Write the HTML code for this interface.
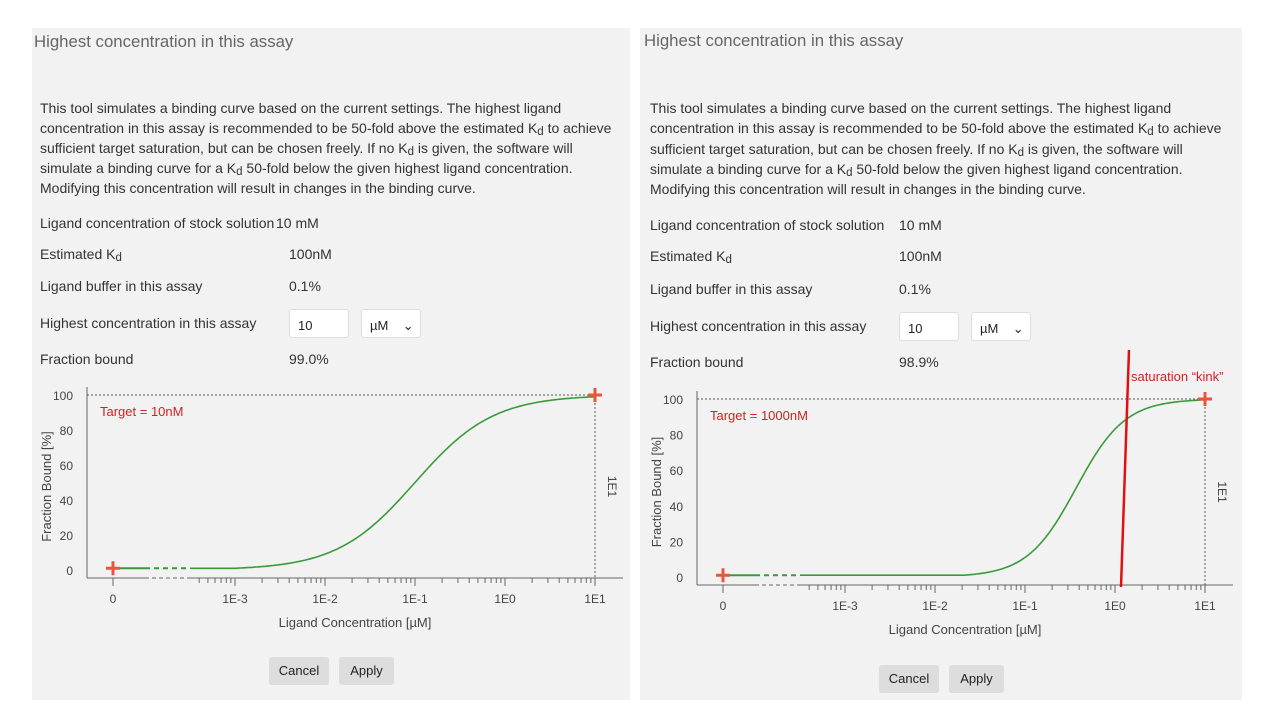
<!DOCTYPE html>
<html><head><meta charset="utf-8"><style>
body{margin:0;width:1280px;height:720px;background:#fff;position:relative;overflow:hidden;font-family:"Liberation Sans",sans-serif;}
.p{position:absolute;background:#f2f2f2;}
.t{position:absolute;white-space:nowrap;color:#333;font-size:14px;}
.h{font-size:16.8px;color:#666;}
sub{font-size:11.5px;vertical-align:-2px;line-height:0;}
.box{position:absolute;background:#fff;border:1px solid #ddd;border-radius:3px;font-size:13px;color:#222;box-sizing:border-box;padding:8px 0 0 8px;}
.btn{position:absolute;background:#ddd;border-radius:3px;font-size:13px;color:#222;text-align:center;line-height:28px;}
svg{position:absolute;left:0;top:0;}
</style></head><body>
<div class="p" style="left:32px;top:28px;width:598px;height:672px"></div>
<div class="p" style="left:640px;top:28px;width:602px;height:672px"></div>

<div class="t h" style="left:34px;top:32px">Highest concentration in this assay</div>
<div class="t" style="left:40px;top:98px;line-height:20px">This tool simulates a binding curve based on the current settings. The highest ligand<br>concentration in this assay is recommended to be 50-fold above the estimated K<sub>d</sub> to achieve<br>sufficient target saturation, but can be chosen freely. If no K<sub>d</sub> is given, the software will<br>simulate a binding curve for a K<sub>d</sub> 50-fold below the given highest ligand concentration.<br>Modifying this concentration will result in changes in the binding curve.</div>
<div class="t" style="left:40px;top:215px">Ligand concentration of stock solution</div><div class="t" style="left:276px;top:215px">10 mM</div>
<div class="t" style="left:40px;top:246px">Estimated K<sub>d</sub></div><div class="t" style="left:289px;top:246px">100nM</div>
<div class="t" style="left:40px;top:278px">Ligand buffer in this assay</div><div class="t" style="left:289px;top:278px">0.1%</div>
<div class="t" style="left:40px;top:315px">Highest concentration in this assay</div>
<div class="box" style="left:289px;top:309px;width:60px;height:29px">10</div>
<div class="box" style="left:361px;top:309px;width:60px;height:29px">µM &nbsp;&nbsp;&nbsp;⌄</div>
<div class="t" style="left:40px;top:351px">Fraction bound</div><div class="t" style="left:289px;top:351px">99.0%</div>
<div class="btn" style="left:269px;top:657px;width:60px;height:28px">Cancel</div>
<div class="btn" style="left:339px;top:657px;width:55px;height:28px">Apply</div>

<div class="t h" style="left:644px;top:31px">Highest concentration in this assay</div>
<div class="t" style="left:650px;top:98px;line-height:20.3px">This tool simulates a binding curve based on the current settings. The highest ligand<br>concentration in this assay is recommended to be 50-fold above the estimated K<sub>d</sub> to achieve<br>sufficient target saturation, but can be chosen freely. If no K<sub>d</sub> is given, the software will<br>simulate a binding curve for a K<sub>d</sub> 50-fold below the given highest ligand concentration.<br>Modifying this concentration will result in changes in the binding curve.</div>
<div class="t" style="left:650px;top:217px">Ligand concentration of stock solution</div><div class="t" style="left:899px;top:217px">10 mM</div>
<div class="t" style="left:650px;top:248px">Estimated K<sub>d</sub></div><div class="t" style="left:899px;top:248px">100nM</div>
<div class="t" style="left:650px;top:281px">Ligand buffer in this assay</div><div class="t" style="left:899px;top:281px">0.1%</div>
<div class="t" style="left:650px;top:318px">Highest concentration in this assay</div>
<div class="box" style="left:899px;top:312px;width:60px;height:29px">10</div>
<div class="box" style="left:971px;top:312px;width:60px;height:29px">µM &nbsp;&nbsp;&nbsp;⌄</div>
<div class="t" style="left:650px;top:354px">Fraction bound</div><div class="t" style="left:899px;top:354px">98.9%</div>
<div class="btn" style="left:879px;top:665px;width:60px;height:28px">Cancel</div>
<div class="btn" style="left:949px;top:665px;width:55px;height:28px">Apply</div>

<svg id="s" width="1280" height="720" font-family="Liberation Sans, sans-serif"></svg>
<script>
var s=document.getElementById('s'),o='';
function chart(c){
 var x0=c.x0,dec=90,X=function(l){return c.x0+dec*(l+3)+122;},Y=function(v){return c.y0-(c.y0-c.y100)*v/100;};
 var ax=c.ay;
 o+='<line x1="'+c.yx+'" y1="'+(c.y100-8)+'" x2="'+c.yx+'" y2="'+ax+'" stroke="#666"/>';
 o+='<line x1="'+c.yx+'" y1="'+ax+'" x2="'+(x0+32)+'" y2="'+ax+'" stroke="#666"/>';
 o+='<line x1="'+(x0+32)+'" y1="'+ax+'" x2="'+(x0+77)+'" y2="'+ax+'" stroke="#666" stroke-dasharray="4,3"/>';
 o+='<line x1="'+(x0+77)+'" y1="'+ax+'" x2="'+c.xe+'" y2="'+ax+'" stroke="#666"/>';
 o+='<line x1="'+x0+'" y1="'+ax+'" x2="'+x0+'" y2="'+(ax+8)+'" stroke="#666"/>';
 for(var d=-4;d<=1;d++){for(var m=1;m<10;m++){var l=d+Math.log10(m);if(l<-3.5||l>1.2)continue;var xx=X(l);
  o+='<line x1="'+xx+'" y1="'+ax+'" x2="'+xx+'" y2="'+(ax+(m==1?8:5))+'" stroke="#666"/>';}}
 var labs=['1E-3','1E-2','1E-1','1E0','1E1'];
 o+='<text x="'+x0+'" y="'+(ax+25)+'" font-size="12" fill="#444" text-anchor="middle">0</text>';
 for(var i=0;i<5;i++)o+='<text x="'+X(i-3)+'" y="'+(ax+25)+'" font-size="12" fill="#444" text-anchor="middle">'+labs[i]+'</text>';
 for(var v=0;v<=100;v+=20)o+='<text x="'+(c.yx-14)+'" y="'+(Y(v)+5)+'" font-size="12" fill="#444" text-anchor="end">'+v+'</text>';
 o+='<text x="'+((c.yx+c.xe)/2)+'" y="'+(ax+49)+'" font-size="13" fill="#444" text-anchor="middle">Ligand Concentration [µM]</text>';
 var cy=(c.y100+ax)/2;
 o+='<text transform="translate('+(c.yx-36)+','+cy+') rotate(-90)" font-size="13" fill="#444" text-anchor="middle">Fraction Bound [%]</text>';
 o+='<text transform="translate('+(X(1)+13)+','+cy+') rotate(90)" font-size="12" fill="#444" text-anchor="middle">1E1</text>';
 o+='<line x1="'+c.yx+'" y1="'+c.y100+'" x2="'+X(1)+'" y2="'+c.y100+'" stroke="#555" stroke-dasharray="2,2"/>';
 o+='<line x1="'+X(1)+'" y1="'+c.y100+'" x2="'+X(1)+'" y2="'+ax+'" stroke="#555" stroke-dasharray="2,2"/>';
 var f=function(L){var q=Math.pow(L/c.K,c.n);return 100*q/(1+q);};
 o+='<line x1="'+x0+'" y1="'+Y(1)+'" x2="'+(x0+32)+'" y2="'+Y(1)+'" stroke="#3a9a3a" stroke-width="2"/>';
 o+='<line x1="'+(x0+32)+'" y1="'+Y(1)+'" x2="'+(x0+77)+'" y2="'+Y(1)+'" stroke="#3a9a3a" stroke-width="2" stroke-dasharray="5,4"/>';
 var pts=[];for(var l=-3.5;l<=1.001;l+=0.02){var v=Math.max(f(Math.pow(10,l)),1);pts.push(X(l).toFixed(1)+','+Y(v).toFixed(1));}
 o+='<polyline points="'+pts.join(' ')+'" fill="none" stroke="#3a9a3a" stroke-width="1.6"/>';
 [[x0,Y(1)],[X(1),c.y100]].forEach(function(p){o+='<path d="M'+(p[0]-7)+' '+p[1]+'h14M'+p[0]+' '+(p[1]-7)+'v14" stroke="#e8553a" stroke-width="3"/>';});
 o+='<text x="'+(x0-13)+'" y="'+(c.y100+21)+'" font-size="13" fill="#d42020">'+c.tgt+'</text>';
}
chart({x0:113,yx:87,xe:623,ay:578,y0:570,y100:395,K:0.1,n:1,tgt:'Target = 10nM'});
chart({x0:723,yx:697,xe:1233,ay:585,y0:577,y100:399,K:0.37,n:1.6,tgt:'Target = 1000nM'});
o+='<line x1="1129" y1="350" x2="1121" y2="587" stroke="#e01010" stroke-width="2.5"/>';
o+='<text x="1131" y="381" font-size="13" fill="#d42020">saturation “kink”</text>';
s.innerHTML=o;
</script>
</body></html>
